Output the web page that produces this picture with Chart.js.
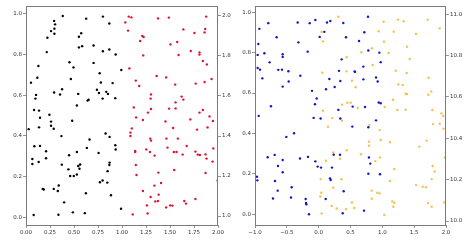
<!DOCTYPE html>
<html>
<head>
<meta charset="utf-8">
<script src="https://cdn.jsdelivr.net/npm/chart.js@4.4.1/dist/chart.umd.min.js"></script>
<style>
  body { margin: 0; background: #fff; }
  canvas { position: absolute; top: 0; }
  #c1 { left: 0; }
  #c2 { left: 237px; }
</style>
</head>
<body>
<canvas id="c1" width="237" height="243"></canvas>
<canvas id="c2" width="237" height="243"></canvas>
<script>
// left panel: black on left axis, red on right axis
const blackPts = [
  [0.383,0.988],[0.293,0.964],[0.627,0.975],[0.801,0.985],[0.303,0.947],[0.868,0.951],[0.296,0.926],[0.261,0.914],
  [0.296,0.901],[0.223,0.881],[0.575,0.903],[0.551,0.886],[0.585,0.840],[0.551,0.834],[0.704,0.843],[0.868,0.824],
  [0.801,0.815],[0.216,0.811],[0.934,0.799],[0.453,0.761],[0.704,0.758],[0.129,0.743],[0.495,0.736],[0.993,0.723],
  [0.767,0.707],[0.118,0.685],[0.467,0.679],[0.052,0.661],[0.780,0.662],[0.902,0.659],[0.376,0.629],[0.739,0.626],
  [0.293,0.613],[0.836,0.616],[0.760,0.610],[0.854,0.606],[0.355,0.603],[0.544,0.606],[0.105,0.601],[0.098,0.583],
  [0.652,0.577],[0.641,0.573],[0.798,0.583],[0.930,0.585],[0.530,0.549],[0.084,0.527],[0.136,0.524],[0.244,0.504],
  [0.146,0.489],[0.481,0.474],[0.261,0.470],[0.261,0.450],[0.136,0.442],[0.028,0.433],[0.289,0.435],[0.829,0.412],
  [0.871,0.395],[0.369,0.399],[0.662,0.382],[0.930,0.354],[0.087,0.349],[0.146,0.351],[0.634,0.341],[0.934,0.333],
  [0.209,0.325],[0.530,0.321],[0.756,0.316],[0.449,0.305],[0.066,0.287],[0.209,0.290],[0.132,0.272],[0.871,0.269],
  [0.066,0.262],[0.373,0.259],[0.868,0.257],[0.564,0.260],[0.544,0.252],[0.557,0.239],[0.442,0.236],[0.850,0.227],
  [0.530,0.211],[0.460,0.203],[0.498,0.203],[0.798,0.181],[0.770,0.173],[0.847,0.171],[0.341,0.157],[0.174,0.140],
  [0.185,0.137],[0.289,0.140],[0.331,0.130],[0.624,0.119],[0.885,0.109],[0.397,0.074],[0.990,0.043],[0.488,0.025],
  [0.613,0.021],[0.338,0.013],[0.080,0.012]
];
const redPts = [
  [1.070,1.997],[1.098,1.993],[1.375,1.988],[1.488,1.992],[1.877,1.997],[1.035,1.968],[1.063,1.927],[1.639,1.933],
  [1.867,1.935],[1.860,1.918],[1.754,1.915],[1.211,1.900],[1.225,1.895],[1.189,1.875],[1.575,1.870],[1.505,1.858],
  [1.716,1.825],[1.807,1.818],[1.807,1.807],[1.589,1.805],[1.221,1.803],[2.000,1.788],[1.842,1.775],[1.884,1.758],
  [1.077,1.738],[1.361,1.700],[1.460,1.693],[1.933,1.685],[1.144,1.677],[1.860,1.670],[1.768,1.662],[1.554,1.657],
  [1.179,1.650],[1.302,1.608],[1.621,1.597],[1.298,1.587],[1.639,1.582],[1.558,1.568],[1.123,1.543],[1.491,1.537],
  [1.558,1.538],[1.302,1.535],[1.842,1.530],[1.807,1.517],[1.270,1.517],[1.912,1.498],[1.147,1.493],[1.218,1.480],
  [1.712,1.483],[1.947,1.475],[1.453,1.473],[1.533,1.440],[1.102,1.438],[1.782,1.432],[1.891,1.443],[1.088,1.417],
  [1.088,1.400],[1.295,1.387],[1.463,1.387],[1.582,1.387],[1.302,1.377],[1.674,1.350],[1.474,1.342],[1.951,1.338],
  [1.253,1.333],[1.137,1.325],[1.137,1.320],[1.291,1.320],[1.765,1.322],[1.540,1.320],[1.568,1.320],[1.789,1.307],
  [1.811,1.305],[1.632,1.307],[1.870,1.308],[1.340,1.302],[1.881,1.287],[1.944,1.272],[1.144,1.255],[1.544,1.230],
  [1.151,1.205],[1.379,1.217],[1.870,1.215],[1.996,1.177],[1.337,1.152],[1.407,1.165],[1.218,1.125],[1.382,1.107],
  [1.298,1.095],[1.347,1.073],[1.375,1.075],[1.765,1.085],[1.649,1.075],[1.667,1.062],[1.260,1.053],[1.502,1.053],
  [1.526,1.052],[1.460,1.043],[1.267,1.013],[1.112,1.008]
];
// right panel: blue on left axis, orange on right axis
const bluePts = [
  [-0.052,0.962],[-0.330,0.949],[-0.141,0.946],[0.131,0.949],[0.183,0.957],[0.387,0.947],[-0.791,0.946],[-0.932,0.918],
  [0.089,0.903],[-0.660,0.876],[0.016,0.878],[0.429,0.876],[0.634,0.858],[-0.319,0.851],[-0.948,0.843],[-0.173,0.805],
  [-0.853,0.797],[-0.565,0.792],[-0.958,0.789],[-0.565,0.779],[0.361,0.767],[-0.770,0.752],[-0.958,0.724],[-0.921,0.716],
  [-0.634,0.715],[-0.576,0.716],[-0.476,0.708],[0.319,0.710],[0.571,0.705],[-0.288,0.686],[-0.885,0.673],[0.168,0.670],
  [0.340,0.660],[-0.471,0.657],[-0.565,0.632],[0.251,0.630],[0.115,0.619],[-0.105,0.611],[-0.031,0.573],[-0.058,0.545],
  [-0.749,0.535],[0.534,0.533],[0.309,0.517],[-0.942,0.487],[-0.079,0.477],[0.031,0.474],[0.340,0.474],[0.529,0.434],
  [-0.387,0.401],[-0.508,0.383],[0.236,0.295],[0.335,0.295],[-0.691,0.294],[-0.801,0.282],[-0.168,0.284],[-0.293,0.276],
  [-0.639,0.239],[-0.052,0.262],[-0.565,0.269],[-0.016,0.236],[0.037,0.231],[0.209,0.231],[-0.565,0.208],[-0.969,0.186],
  [-0.963,0.168],[0.178,0.178],[0.188,0.170],[-0.686,0.165],[-0.424,0.134],[-0.644,0.117],[0.393,0.114],[-0.717,0.078],
  [-0.435,0.083],[-0.204,0.076],[0.110,0.076],[-0.199,0.056],[-0.194,0.050],[-0.152,0.000],[0.377,0.005],
  [0.775,0.978],[0.717,0.901],[0.780,0.811],[0.953,0.800],[0.974,0.753],[0.702,0.731],[0.565,0.707],[0.901,0.677],
  [0.702,0.668],[0.927,0.657],[0.728,0.531],[0.943,0.553],[0.974,0.550],[0.901,0.465],[0.780,0.431],[0.790,0.281],
  [0.811,0.251],[0.780,0.201],[0.963,0.198],[0.712,0.018]
];
const orangePts = [
  [0.309,10.988],[0.047,10.914],[0.068,10.869],[0.440,10.792],[0.057,10.717],[0.440,10.724],[0.450,10.572],[0.366,10.563],
  [0.068,10.534],[0.314,10.537],
  [1.021,10.964],[1.246,10.974],[1.335,10.966],[1.712,10.974],[1.900,10.932],[0.943,10.918],[1.178,10.916],[1.529,10.905],
  [1.026,10.867],[0.838,10.836],[1.387,10.843],[0.670,10.816],[1.100,10.813],[1.430,10.784],[0.848,10.755],[1.210,10.727],
  [1.383,10.716],[1.728,10.693],[0.523,10.679],[1.251,10.661],[1.320,10.658],[0.581,10.647],[1.367,10.616],[1.387,10.614],
  [1.769,10.627],[1.722,10.611],[1.167,10.587],[0.503,10.572],[1.037,10.552],[0.613,10.547],[1.236,10.537],[1.786,10.537],
  [1.367,10.538],[1.930,10.521],[1.957,10.508],
  [1.797,10.469],[1.902,10.471],[1.960,10.447],[0.796,10.464],[0.958,10.440],[0.790,10.384],[0.790,10.364],[0.974,10.392],
  [1.120,10.381],[1.581,10.360],[1.696,10.389],[0.665,10.323],[0.963,10.308],[1.982,10.308],[0.890,10.290],[1.791,10.266],
  [1.188,10.252],[1.822,10.240],[1.775,10.203],[1.120,10.194],[1.529,10.174],[1.634,10.166],[1.686,10.164],[0.833,10.147],
  [0.921,10.137],[0.958,10.134],[0.523,10.090],[0.560,10.063],[0.833,10.108],[1.156,10.095],[1.188,10.089],[1.717,10.087],
  [1.172,10.069],[1.775,10.069],[1.974,10.090],[1.031,10.030],
  [0.214,10.498],[0.366,10.485],[0.147,10.456],[0.230,10.332],[0.440,10.343],[0.115,10.292],[0.335,10.301],[0.031,10.203],
  [0.356,10.202],[0.230,10.161],[0.041,10.137],[0.026,10.119],[0.204,10.073],[0.283,10.061],[0.429,10.058],[0.047,10.037]
];

// tick labels
const leftXTicks = ['0.00','0.25','0.50','0.75','1.00','1.25','1.50','1.75','2.00'];
const leftY1Ticks = ['0.0','0.2','0.4','0.6','0.8','1.0'];
const leftY2Ticks = ['1.0','1.2','1.4','1.6','1.8','2.0'];
const rightXTicks = ['\u22121.0','\u22120.5','0.0','0.5','1.0','1.5','2.0'];
const rightY1Ticks = ['0.0','0.2','0.4','0.6','0.8','1.0'];
const rightY2Ticks = ['10.0','10.2','10.4','10.6','10.8','11.0'];

const fontSpec = { family: 'DejaVu Sans', size: 5.5 };
const spineColor = '#7a7a7a';

function num(s) { return parseFloat(s.replace('\u2212', '-')); }

function axis(labels, min, max, extra) {
  return Object.assign({
    type: 'linear',
    min: min,
    max: max,
    afterBuildTicks: a => { a.ticks = labels.map(l => ({ value: num(l) })); },
    ticks: {
      autoSkip: false,
      maxRotation: 0,
      padding: 1,
      color: '#333',
      font: fontSpec,
      callback: (v, i) => labels[i]
    },
    grid: { drawOnChartArea: false, drawTicks: true, tickLength: 3, color: spineColor, tickWidth: 0.8 },
    border: { display: false }
  }, extra);
}

const frame = {
  id: 'frame',
  afterDraw(chart) {
    const { ctx, chartArea: a } = chart;
    ctx.save();
    ctx.strokeStyle = spineColor;
    ctx.lineWidth = 1;
    ctx.strokeRect(Math.round(a.left) + 0.5, Math.round(a.top) + 0.5,
      Math.round(a.right - a.left) - 1, Math.round(a.bottom - a.top));
    ctx.restore();
  }
};

function toXY(pts) { return pts.map(p => ({ x: p[0], y: p[1] })); }

function makeChart(id, sets, scales) {
  return new Chart(document.getElementById(id), {
    type: 'scatter',
    data: { datasets: sets },
    options: {
      responsive: false,
      animation: false,
      layout: { padding: { top: 6, left: 0, right: 0, bottom: 0 } },
      plugins: { legend: { display: false }, tooltip: { enabled: false } },
      elements: { point: { radius: 1.2, borderWidth: 0 } },
      scales: scales
    },
    plugins: [frame]
  });
}

makeChart('c1', [
  { data: toXY(blackPts), yAxisID: 'y', backgroundColor: '#000000' },
  { data: toXY(redPts), yAxisID: 'y2', backgroundColor: '#e0102e' }
], {
  x: axis(leftXTicks, 0, 2, { position: 'bottom', afterFit: a => { a.height = 18; } }),
  y: axis(leftY1Ticks, -0.037, 1.037, { position: 'left', afterFit: a => { a.width = 26; } }),
  y2: axis(leftY2Ticks, 0.955, 2.05, { position: 'right', afterFit: a => { a.width = 19; } })
});

makeChart('c2', [
  { data: toXY(bluePts), yAxisID: 'y', backgroundColor: '#1414c8' },
  { data: toXY(orangePts), yAxisID: 'y2', backgroundColor: 'rgba(245,170,20,0.75)' }
], {
  x: axis(rightXTicks, -1, 2, { position: 'bottom', afterFit: a => { a.height = 18; } }),
  y: axis(rightY1Ticks, -0.053, 1.031, { position: 'left', afterFit: a => { a.width = 18; } }),
  y2: axis(rightY2Ticks, 9.981, 11.04, { position: 'right', afterFit: a => { a.width = 28; } })
});
</script>
</body>
</html>
